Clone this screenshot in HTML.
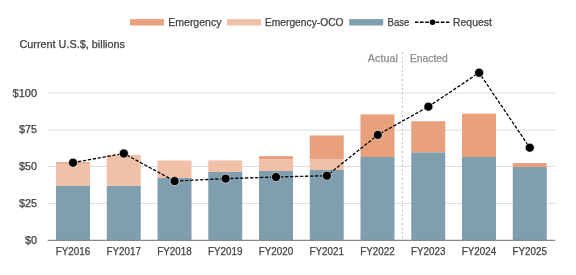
<!DOCTYPE html>
<html><head><meta charset="utf-8"><style>
html,body{margin:0;padding:0;background:#fff;width:576px;height:275px;overflow:hidden}
#w{position:absolute;left:0;top:0;width:576px;height:275px;will-change:transform}
svg{display:block}
.t{font-family:"Liberation Sans",sans-serif;font-size:10.6px;fill:#404040;stroke:#404040;stroke-width:0.25px}
.g{font-family:"Liberation Sans",sans-serif;font-size:10.6px;fill:#8C8C8C;stroke:#8C8C8C;stroke-width:0.25px}
</style></head><body>
<div id="w">
<svg width="576" height="275" viewBox="0 0 576 275">
<line x1="47.625" x2="555.125" y1="93.05" y2="93.05" stroke="#DEDEDE" stroke-width="1"/>
<line x1="47.625" x2="555.125" y1="130.10" y2="130.10" stroke="#DEDEDE" stroke-width="1"/>
<line x1="47.625" x2="555.125" y1="166.45" y2="166.45" stroke="#DEDEDE" stroke-width="1"/>
<line x1="47.625" x2="555.125" y1="203.45" y2="203.45" stroke="#DEDEDE" stroke-width="1"/>
<rect x="56.00" y="186.0" width="34.0" height="54.20" fill="#7F9FAE"/>
<rect x="56.00" y="163.8" width="34.0" height="22.20" fill="#F1C0A8"/>
<rect x="56.00" y="162.2" width="34.0" height="1.60" fill="#E8A07D"/>
<rect x="106.75" y="185.9" width="34.0" height="54.30" fill="#7F9FAE"/>
<rect x="106.75" y="155.0" width="34.0" height="30.90" fill="#F1C0A8"/>
<rect x="157.50" y="178.0" width="34.0" height="62.20" fill="#7F9FAE"/>
<rect x="157.50" y="160.5" width="34.0" height="17.50" fill="#F1C0A8"/>
<rect x="208.25" y="171.9" width="34.0" height="68.30" fill="#7F9FAE"/>
<rect x="208.25" y="160.4" width="34.0" height="11.50" fill="#F1C0A8"/>
<rect x="259.00" y="171.0" width="34.0" height="69.20" fill="#7F9FAE"/>
<rect x="259.00" y="159.0" width="34.0" height="12.00" fill="#F1C0A8"/>
<rect x="259.00" y="156.1" width="34.0" height="2.90" fill="#E8A07D"/>
<rect x="309.75" y="170.0" width="34.0" height="70.20" fill="#7F9FAE"/>
<rect x="309.75" y="159.2" width="34.0" height="10.80" fill="#F1C0A8"/>
<rect x="309.75" y="135.5" width="34.0" height="23.70" fill="#E8A07D"/>
<rect x="360.50" y="157.0" width="34.0" height="83.20" fill="#7F9FAE"/>
<rect x="360.50" y="114.4" width="34.0" height="42.60" fill="#E8A07D"/>
<rect x="411.25" y="152.3" width="34.0" height="87.90" fill="#7F9FAE"/>
<rect x="411.25" y="121.2" width="34.0" height="31.10" fill="#E8A07D"/>
<rect x="462.00" y="157.0" width="34.0" height="83.20" fill="#7F9FAE"/>
<rect x="462.00" y="113.6" width="34.0" height="43.40" fill="#E8A07D"/>
<rect x="512.75" y="167.0" width="34.0" height="73.20" fill="#7F9FAE"/>
<rect x="512.75" y="163.05" width="34.0" height="3.95" fill="#E8A07D"/>
<line x1="47.625" x2="555.125" y1="240.35" y2="240.35" stroke="#888888" stroke-width="1.3"/>
<line x1="402.4" x2="402.4" y1="52" y2="240.2" stroke="#BFBFBF" stroke-width="1" stroke-dasharray="2,2.5"/>
<polyline points="73.0,162.65 123.8,153.45 174.6,181.1 225.6,178.65 276.0,177.0 326.9,175.7 377.8,134.9 428.4,106.65 479.1,72.7 529.75,147.65" fill="none" stroke="#000" stroke-width="1.3" stroke-dasharray="3.3,1.7"/>
<circle cx="73.0" cy="162.65" r="4.5" fill="#000" stroke="#fff" stroke-width="0.6"/>
<circle cx="123.8" cy="153.45" r="4.5" fill="#000" stroke="#fff" stroke-width="0.6"/>
<circle cx="174.6" cy="181.1" r="4.5" fill="#000" stroke="#fff" stroke-width="0.6"/>
<circle cx="225.6" cy="178.65" r="4.5" fill="#000" stroke="#fff" stroke-width="0.6"/>
<circle cx="276.0" cy="177.0" r="4.5" fill="#000" stroke="#fff" stroke-width="0.6"/>
<circle cx="326.9" cy="175.7" r="4.5" fill="#000" stroke="#fff" stroke-width="0.6"/>
<circle cx="377.8" cy="134.9" r="4.5" fill="#000" stroke="#fff" stroke-width="0.6"/>
<circle cx="428.4" cy="106.65" r="4.5" fill="#000" stroke="#fff" stroke-width="0.6"/>
<circle cx="479.1" cy="72.7" r="4.5" fill="#000" stroke="#fff" stroke-width="0.6"/>
<circle cx="529.75" cy="147.65" r="4.5" fill="#000" stroke="#fff" stroke-width="0.6"/>
<text x="12.50" y="96.50" class="t" textLength="24.6" lengthAdjust="spacingAndGlyphs">$100</text>
<text x="19.10" y="133.25" class="t" textLength="18" lengthAdjust="spacingAndGlyphs">$75</text>
<text x="19.10" y="170.00" class="t" textLength="18" lengthAdjust="spacingAndGlyphs">$50</text>
<text x="19.10" y="206.75" class="t" textLength="18" lengthAdjust="spacingAndGlyphs">$25</text>
<text x="25.10" y="243.50" class="t" textLength="12" lengthAdjust="spacingAndGlyphs">$0</text>
<text x="73.00" y="254.7" text-anchor="middle" class="t" textLength="34.4" lengthAdjust="spacingAndGlyphs">FY2016</text>
<text x="123.75" y="254.7" text-anchor="middle" class="t" textLength="34.4" lengthAdjust="spacingAndGlyphs">FY2017</text>
<text x="174.50" y="254.7" text-anchor="middle" class="t" textLength="34.4" lengthAdjust="spacingAndGlyphs">FY2018</text>
<text x="225.25" y="254.7" text-anchor="middle" class="t" textLength="34.4" lengthAdjust="spacingAndGlyphs">FY2019</text>
<text x="276.00" y="254.7" text-anchor="middle" class="t" textLength="34.4" lengthAdjust="spacingAndGlyphs">FY2020</text>
<text x="326.75" y="254.7" text-anchor="middle" class="t" textLength="34.4" lengthAdjust="spacingAndGlyphs">FY2021</text>
<text x="377.50" y="254.7" text-anchor="middle" class="t" textLength="34.4" lengthAdjust="spacingAndGlyphs">FY2022</text>
<text x="428.25" y="254.7" text-anchor="middle" class="t" textLength="34.4" lengthAdjust="spacingAndGlyphs">FY2023</text>
<text x="479.00" y="254.7" text-anchor="middle" class="t" textLength="34.4" lengthAdjust="spacingAndGlyphs">FY2024</text>
<text x="529.75" y="254.7" text-anchor="middle" class="t" textLength="34.4" lengthAdjust="spacingAndGlyphs">FY2025</text>
<text x="19.4" y="48" class="t" textLength="105.6" lengthAdjust="spacingAndGlyphs">Current U.S.$, billions</text>
<text x="367.8" y="62.0" class="g" textLength="30" lengthAdjust="spacingAndGlyphs">Actual</text>
<text x="410" y="62.0" class="g" textLength="37.8" lengthAdjust="spacingAndGlyphs">Enacted</text>
<rect x="130" y="19.1" width="34" height="6.4" fill="#E8A07D"/>
<text x="168.3" y="26.1" class="t" textLength="53.1" lengthAdjust="spacingAndGlyphs">Emergency</text>
<rect x="227" y="19.1" width="34" height="6.4" fill="#F1C0A8"/>
<text x="264.9" y="26.1" class="t" textLength="78.7" lengthAdjust="spacingAndGlyphs">Emergency-OCO</text>
<rect x="349.2" y="19.1" width="34" height="6.4" fill="#7F9FAE"/>
<text x="387.6" y="26.1" class="t" textLength="21.8" lengthAdjust="spacingAndGlyphs">Base</text>
<line x1="414.8" x2="449.3" y1="22.2" y2="22.2" stroke="#000" stroke-width="1.4" stroke-dasharray="3.6,1.6"/>
<circle cx="432.5" cy="22.2" r="2.75" fill="#000"/>
<text x="453.1" y="26.1" class="t" textLength="38.7" lengthAdjust="spacingAndGlyphs">Request</text>
</svg>
</div>
</body></html>
